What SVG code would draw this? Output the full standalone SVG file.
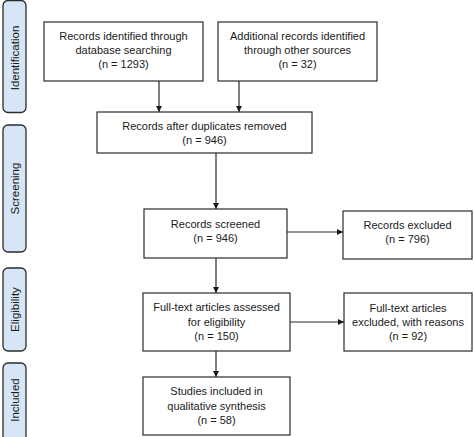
<svg xmlns="http://www.w3.org/2000/svg" width="474" height="437" viewBox="0 0 474 437">
<defs>
<style>
.box{fill:#fff;stroke:#2b2b2b;stroke-width:1.2}
.side{fill:#d6e6f7;stroke:#2b2b2b;stroke-width:1.3}
.t{font-family:"Liberation Sans",Arial,sans-serif;font-size:11px;fill:#1a1a1a;text-anchor:middle}
.s{font-family:"Liberation Sans",Arial,sans-serif;font-size:11.5px;fill:#1a1a1a;text-anchor:middle}
.c{stroke:#2b2b2b;stroke-width:1.2;fill:none;marker-end:url(#ah)}
</style>
<marker id="ah" viewBox="0 0 10 10" refX="10" refY="5" markerWidth="6" markerHeight="6" markerUnits="userSpaceOnUse" orient="auto">
<path d="M0,0 L10,5 L0,10 z" fill="#1a1a1a"/>
</marker>
</defs>
<rect width="474" height="437" fill="#fff"/>
<g id="phase-identification">
<rect class="side" x="3" y="0.5" width="23" height="112" rx="5"/>
<text class="s" transform="translate(18.5,58) rotate(-90)">Identification</text>
</g>
<g id="phase-screening">
<rect class="side" x="3" y="125" width="23" height="127" rx="5"/>
<text class="s" transform="translate(18.5,188.5) rotate(-90)">Screening</text>
</g>
<g id="phase-eligibility">
<rect class="side" x="3" y="268" width="23" height="83" rx="5"/>
<text class="s" transform="translate(18.5,309.5) rotate(-90)">Eligibility</text>
</g>
<g id="phase-included">
<rect class="side" x="3" y="363" width="23" height="80" rx="5"/>
<text class="s" transform="translate(18.5,400) rotate(-90)">Included</text>
</g>
<g id="connectors">
<line class="c" x1="159" y1="81" x2="159" y2="112"/>
<line class="c" x1="239" y1="81" x2="239" y2="112"/>
<line class="c" x1="216" y1="153" x2="216" y2="209"/>
<line class="c" x1="287" y1="232" x2="343" y2="232"/>
<line class="c" x1="216" y1="258" x2="216" y2="293"/>
<line class="c" x1="290" y1="322" x2="344" y2="322"/>
<line class="c" x1="216" y1="351" x2="216" y2="377"/>
</g>
<g id="n-database">
<rect class="box" x="44" y="22" width="159" height="59"/>
<text class="t" x="123.5" y="40">Records identified through</text>
<text class="t" x="123.5" y="54">database searching</text>
<text class="t" x="123.5" y="68">(n = 1293)</text>
</g>
<g id="n-other">
<rect class="box" x="218" y="22" width="159" height="59"/>
<text class="t" x="297.5" y="40">Additional records identified</text>
<text class="t" x="297.5" y="54">through other sources</text>
<text class="t" x="297.5" y="68">(n = 32)</text>
</g>
<g id="n-dedup">
<rect class="box" x="97" y="112" width="215" height="41"/>
<text class="t" x="204.5" y="130">Records after duplicates removed</text>
<text class="t" x="204.5" y="144">(n = 946)</text>
</g>
<g id="n-screened">
<rect class="box" x="144" y="209" width="143" height="49"/>
<text class="t" x="215.5" y="228">Records screened</text>
<text class="t" x="215.5" y="242">(n = 946)</text>
</g>
<g id="n-excluded">
<rect class="box" x="343" y="211" width="129" height="48"/>
<text class="t" x="407.5" y="229">Records excluded</text>
<text class="t" x="407.5" y="243">(n = 796)</text>
</g>
<g id="n-fulltext">
<rect class="box" x="143" y="293" width="147" height="58"/>
<text class="t" x="216.5" y="311">Full-text articles assessed</text>
<text class="t" x="216.5" y="325.5">for eligibility</text>
<text class="t" x="216.5" y="340">(n = 150)</text>
</g>
<g id="n-fulltext-excluded">
<rect class="box" x="344" y="293" width="128" height="58"/>
<text class="t" x="408" y="312">Full-text articles</text>
<text class="t" x="408" y="326">excluded, with reasons</text>
<text class="t" x="408" y="340">(n =  92)</text>
</g>
<g id="n-included">
<rect class="box" x="143" y="377" width="147" height="58"/>
<text class="t" x="216.5" y="395">Studies included in</text>
<text class="t" x="216.5" y="410">qualitative synthesis</text>
<text class="t" x="216.5" y="424">(n = 58)</text>
</g>
</svg>
